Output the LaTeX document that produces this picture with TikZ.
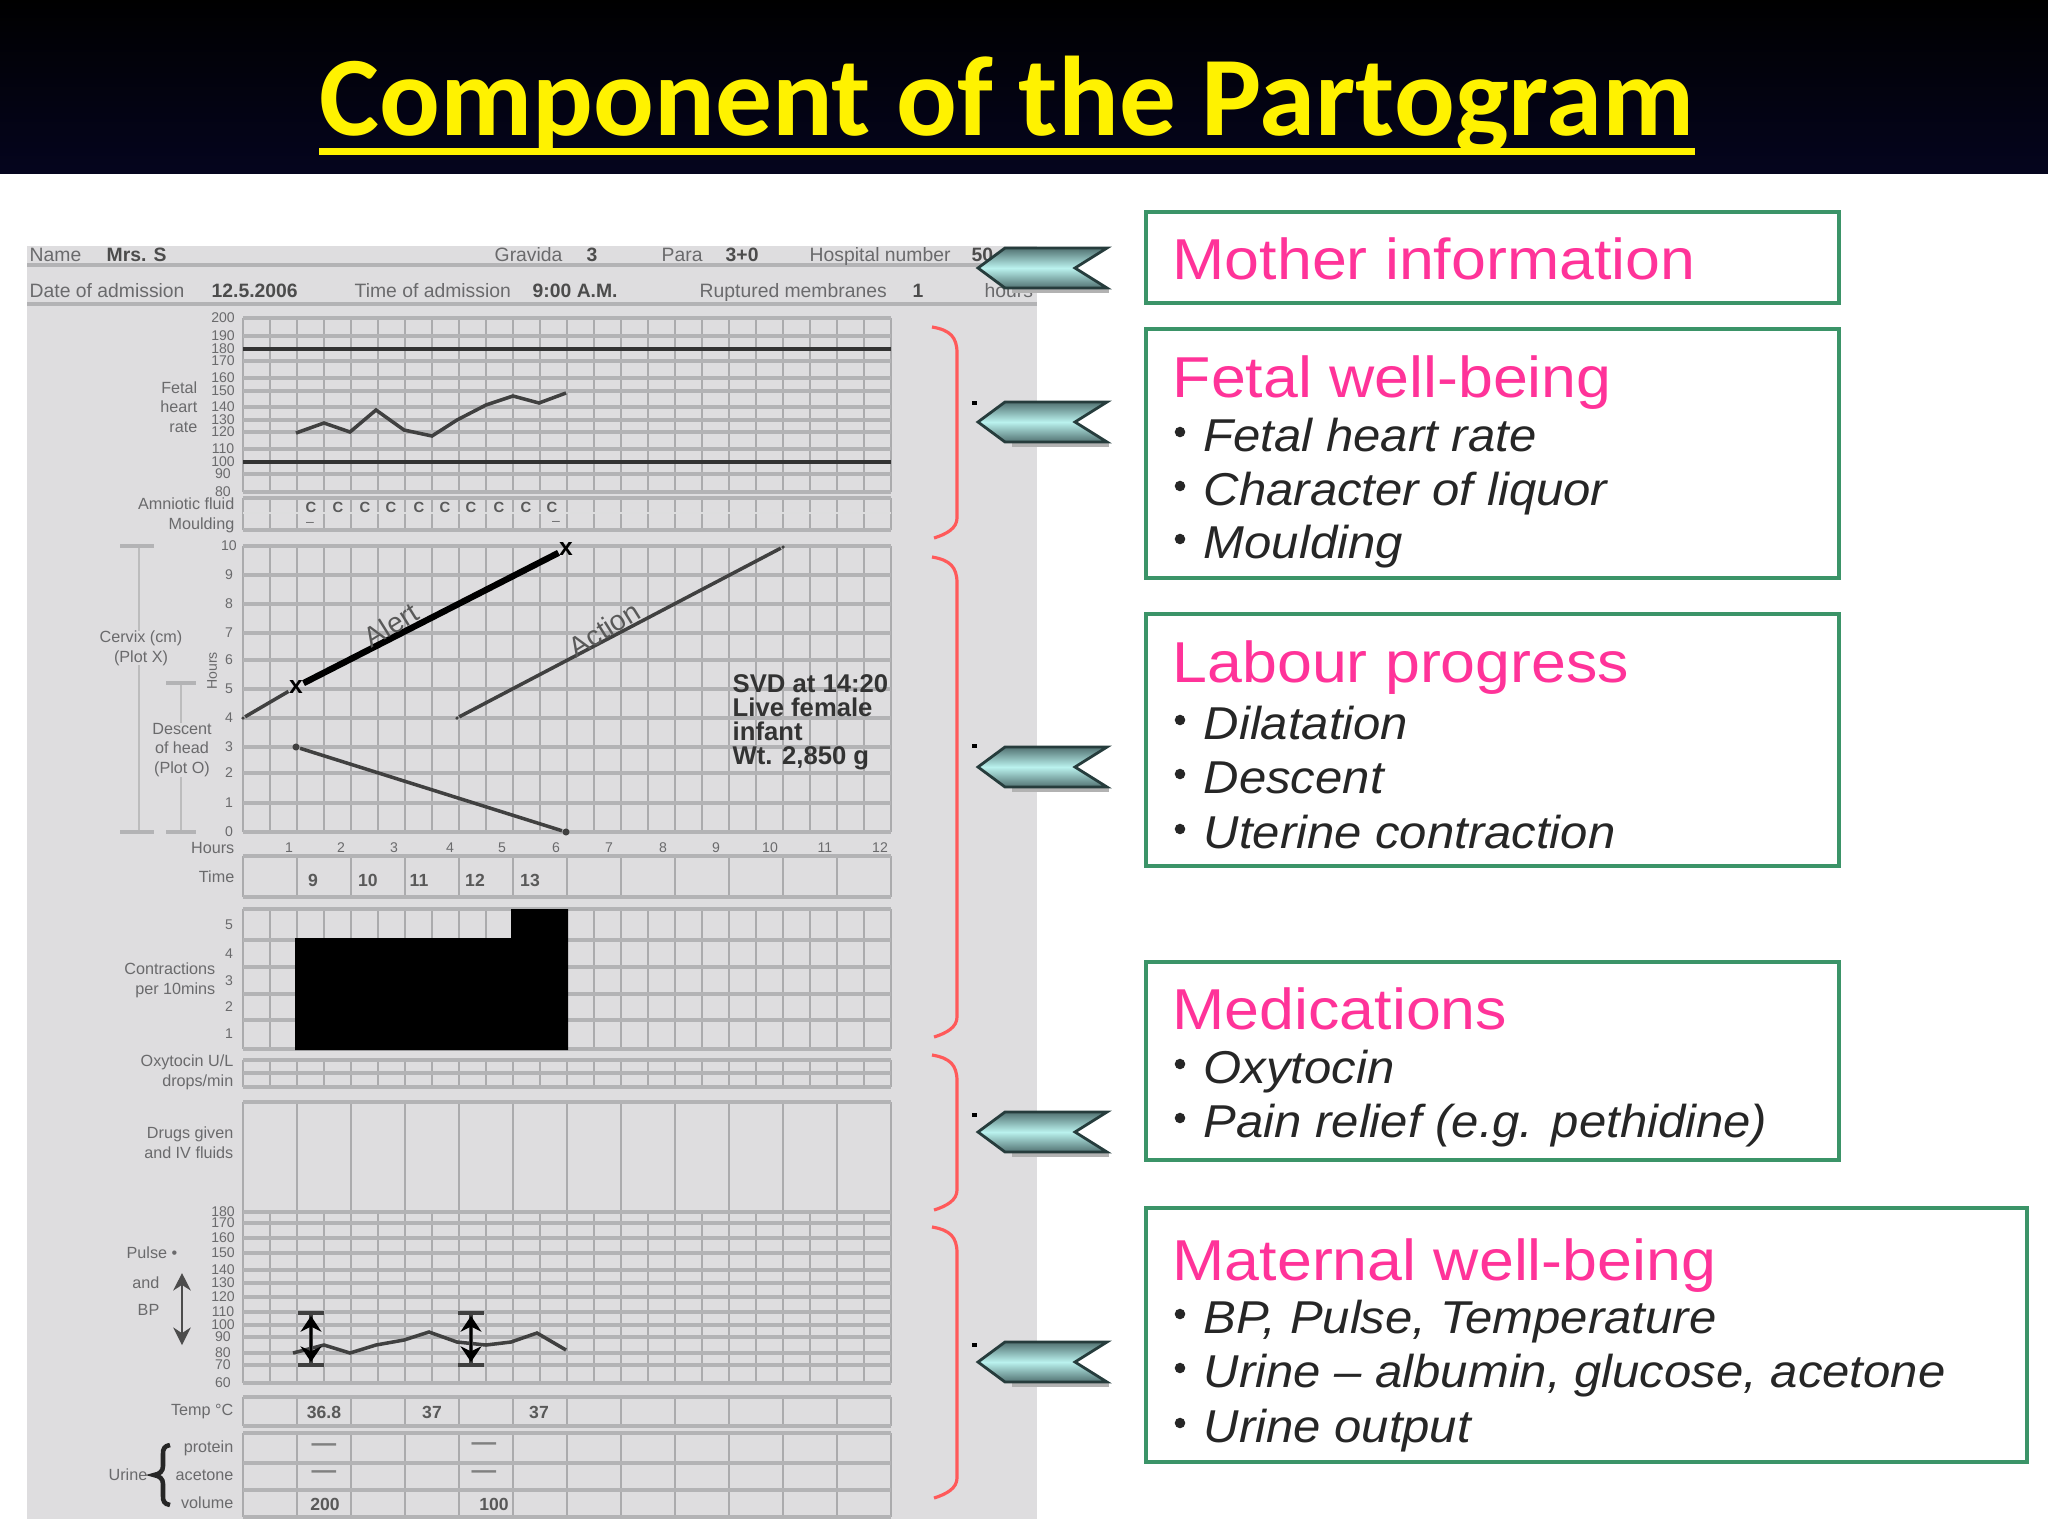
\documentclass[tikz,border=0pt]{standalone}
\usepackage{fontspec}
\setmainfont{Liberation Sans}
\newfontfamily\titlefont{Carlito}
\newfontfamily\headfont[FakeStretch=1.087]{Liberation Sans}
\newfontfamily\itemfont[FakeStretch=1.065]{Liberation Sans}
\usetikzlibrary{arrows.meta}
\definecolor{formgray}{HTML}{DEDDDF}
\definecolor{gridgray}{HTML}{ABABAD}
\definecolor{inkgray}{HTML}{6A6A6C}
\definecolor{boxgreen}{HTML}{3B9468}
\definecolor{headpink}{HTML}{FF3399}
\definecolor{bandblue}{HTML}{05051E}
\definecolor{chevdark}{HTML}{527272}
\definecolor{chevlight}{HTML}{BAF2EE}
\definecolor{chevline}{HTML}{263C3C}
\definecolor{bracered}{HTML}{FF5A5A}
\begin{document}
\begin{tikzpicture}[
    x=0.01cm, y=-0.01cm,
    gridline/.style={draw=gridgray, line width=0.65pt},
    barline/.style={draw=gridgray!90, line width=0.95pt},
    limitline/.style={draw=black!80, line width=1.2pt},
    plotline/.style={draw=black!75, line width=1pt},
    bracket/.style={draw=bracered, line width=0.9pt},
    scaleline/.style={draw=gridgray!80, line width=0.6pt},
    formtext/.style={font=\fontsize{5.5}{6}\selectfont, text=inkgray, inner sep=0pt, anchor=base west},
    formvalue/.style={formtext, text=black!70, font=\fontsize{5.5}{6}\bfseries\selectfont},
    sidetext/.style={font=\fontsize{4.6}{5.6}\selectfont, text=inkgray, inner sep=0pt, align=right, anchor=east},
    centertext/.style={sidetext, align=center, anchor=center},
    tick/.style={font=\fontsize{4}{5}\selectfont, text=inkgray, inner sep=0pt},
    entry/.style={font=\fontsize{5}{6}\bfseries\selectfont, text=black!65, inner sep=0pt},
    liquormark/.style={entry, font=\fontsize{4.2}{5}\bfseries\selectfont},
    urinedash/.style={entry, font=\fontsize{7}{7}\bfseries\selectfont, text=black!50},
    birth/.style={font=\fontsize{7.3}{6.85}\bfseries\selectfont, text=black!80, inner sep=0pt, anchor=west, align=left},
    marker/.style={circle, fill=black!75, inner sep=0pt, minimum size=2pt},
    cross/.style={font=\fontsize{7}{7}\bfseries\selectfont, inner sep=0pt},
    chevron/.style={draw=chevline, line width=0.8pt, top color=chevdark, bottom color=chevdark, middle color=chevlight},
    infobox/.style={draw=boxgreen, line width=1.15pt, fill=white, anchor=north west, inner sep=0pt},
    heading/.style={font=\headfont\fontsize{16.4}{18}\selectfont, text=headpink, inner sep=0pt, anchor=base west},
    item/.style={font=\itemfont\fontsize{13.1}{15}\itshape\selectfont, text=black!85, inner sep=0pt, anchor=base west},
    bulletmark/.style={circle, fill=black!85, inner sep=0pt, minimum size=3pt}
]
    \useasboundingbox (0,0) rectangle (2048,1536);

    % Title band
    \shade[top color=black, bottom color=bandblue] (0,0) rectangle (2048,173);
    \node[font=\titlefont\bfseries\fontsize{32.2}{36}\selectfont, text=yellow, inner sep=0pt, anchor=base] (title) at (1007,135) {Component of the Partogram};
    \draw[yellow, line width=2.1pt] ([yshift=-4.7pt]title.base west) -- ([yshift=-4.7pt]title.base east);

    % Form sheet
    \fill[formgray] (27,246) rectangle (1037,1519);
    \draw[barline] (27,265) -- (1000,265);
    \draw[barline] (27,304) -- (1037,304);

    % Form header
    \node[formtext] (name) at (29,261) {Name};
    \node[formvalue] (mrs) at (106,261) {Mrs. S};
    \node[formtext] (gravida) at (494,261) {Gravida};
    \node[formvalue] (gravidano) at (586,261) {3};
    \node[formtext] (para) at (661,261) {Para};
    \node[formvalue] (parano) at (725,261) {3+0};
    \node[formtext] (hospital) at (809,261) {Hospital number};
    \node[formvalue] (hospitalno) at (971,261) {50};
    \node[formtext] (admitdate) at (29,297) {Date of admission};
    \node[formvalue] (admitdateval) at (211,297) {12.5.2006};
    \node[formtext] (admittime) at (354,297) {Time of admission};
    \node[formvalue] (admittimeval) at (532,297) {9:00 A.M.};
    \node[formtext] (ruptured) at (699,297) {Ruptured membranes};
    \node[formvalue] (rupturedval) at (912,297) {1};
    \node[formtext] (hours) at (984,297) {hours};

    % Fetal heart rate grid
    \foreach \x in {243,270,...,891}
        \draw[gridline] (\x,318) -- (\x,492);
    \foreach \y/\v in {318/200,336/190,349/180,361/170,378/160,391/150,407/140,420/130,432/120,449/110,462/100,474/90,492/80} {
        \draw[barline] (243,\y) -- (891,\y);
        \node[tick] (fhr\v) at (223,\y) {\v};
    }
    \draw[limitline] (243,349) -- (891,349);
    \draw[limitline] (243,462) -- (891,462);
    \draw[plotline] (296,433) -- (324,423) -- (350,432) -- (376,410) -- (404,430) -- (432,436) -- (457,420) -- (486,405) -- (513,396) -- (539,403) -- (566,393);
    \node[sidetext] (fhrlabel) at (198,407) {Fetal\\heart\\rate};

    % Amniotic fluid and moulding
    \foreach \x in {243,270,...,891}
        \draw[gridline] (\x,498) -- (\x,530);
    \draw[barline] (243,498) -- (891,498);
    \draw[gridline, draw=gridgray!40] (243,513) -- (891,513);
    \draw[barline] (243,530) -- (891,530);
    \foreach \x in {311,338,365,391,419,445,471,499,526,552}
        \node[liquormark] (liquor\x) at (\x,507) {C};
    \node[tick] (mould1) at (310,524) {--};
    \node[tick] (mould2) at (556,523) {--};
    \node[sidetext] (liquorlabel) at (235,515) {Amniotic fluid\\Moulding};

    % Cervix and descent grid
    \foreach \x in {243,270,...,891}
        \draw[gridline] (\x,546) -- (\x,832);
    \foreach \y/\v in {546/10,575/9,604/8,633/7,660/6,689/5,718/4,747/3,773/2,803/1,832/0} {
        \draw[barline] (243,\y) -- (891,\y);
        \node[tick] (cervix\v) at (229,\y) {\v};
    }
    \node[marker, minimum size=1pt] (alertbase) at (243,718) {};
    \node[cross] (alertstart) at (296,687) {x};
    \node[cross] (alertend) at (566,549) {x};
    \node[marker, minimum size=1pt] (actionbase) at (457,718) {};
    \node[marker, minimum size=1pt] (actionend) at (783,547) {};
    \node[marker] (descentstart) at (296,747) {};
    \node[marker] (descentend) at (566,832) {};
    \draw[plotline] (alertbase) -- (alertstart);
    \draw[draw=black, line width=1.8pt] (alertstart) -- (alertend);
    \draw[plotline] (actionbase) -- (actionend);
    \draw[plotline] (descentstart) -- (descentend);
    \node[font=\fontsize{8}{9}\selectfont, text=black!65, inner sep=0pt, rotate=32] (alert) at (391,625) {Alert};
    \node[font=\fontsize{8}{9}\selectfont, text=black!65, inner sep=0pt, rotate=32] (action) at (604,629) {Action};
    \node[birth] (delivery) at (732,722) {SVD at 14:20\\Live female\\infant\\Wt. 2,850 g};

    % Cervix and descent scales
    \coordinate (cervixtop) at (139,546);
    \coordinate (cervixbottom) at (139,832);
    \coordinate (descenttop) at (181,683);
    \coordinate (descentmid) at (181,725);
    \coordinate (descentlow) at (181,776);
    \coordinate (descentbottom) at (181,832);
    \draw[scaleline] (cervixtop) -- (cervixbottom);
    \draw[scaleline] (descenttop) -- (descentmid);
    \draw[scaleline] (descentlow) -- (descentbottom);
    \draw[barline] (120,546) -- (154,546);
    \draw[barline] (120,832) -- (154,832);
    \draw[barline] (166,683) -- (196,683);
    \draw[barline] (166,832) -- (196,832);
    \node[centertext, fill=formgray] (cervixlabel) at (141,648) {Cervix (cm)\\(Plot X)};
    \node[centertext, fill=formgray] (descentlabel) at (182,750) {Descent\\of head\\(Plot O)};
    \node[tick, rotate=90] (hourslabel) at (212,671) {Hours};

    % Hours and time rows
    \foreach \x/\v in {289/1,341/2,394/3,450/4,502/5,556/6,609/7,663/8,716/9,770/10,825/11,880/12}
        \node[tick] (hour\v) at (\x,848) {\v};
    \foreach \x in {243,297,...,891}
        \draw[gridline] (\x,856) -- (\x,897);
    \draw[barline] (243,856) -- (891,856);
    \draw[barline] (243,897) -- (891,897);
    \foreach \x/\v in {313/9,368/10,419/11,475/12,530/13}
        \node[entry] (time\v) at (\x,880) {\v};
    \node[sidetext] (hourrow) at (235,848) {Hours};
    \node[sidetext] (timerow) at (235,877) {Time};

    % Contractions grid
    \foreach \x in {243,270,...,891}
        \draw[gridline] (\x,909) -- (\x,1049);
    \foreach \y/\v in {909/6,940/5,967/4,994/3,1020/2,1049/0}
        \draw[barline] (243,\y) -- (891,\y);
    \foreach \y/\v in {925/5,954/4,981/3,1007/2,1034/1}
        \node[tick] (contract\v) at (229,\y) {\v};
    \fill[black] (295,938) -- (511,938) -- (511,909) -- (568,909) -- (568,1050) -- (295,1050) -- cycle;
    \node[sidetext] (contractlabel) at (216,980) {Contractions\\per 10mins};

    % Oxytocin rows
    \foreach \x in {243,270,...,891}
        \draw[gridline] (\x,1060) -- (\x,1087);
    \foreach \y in {1060,1073,1087}
        \draw[barline] (243,\y) -- (891,\y);
    \node[sidetext] (oxylabel) at (234,1072) {Oxytocin U/L\\drops/min};

    % Drugs rows
    \foreach \x in {243,297,...,891}
        \draw[gridline] (\x,1102) -- (\x,1212);
    \draw[barline] (243,1102) -- (891,1102);
    \node[sidetext] (drugslabel) at (234,1143) {Drugs given\\and IV fluids};

    % Pulse and BP grid
    \foreach \x in {243,270,...,891}
        \draw[gridline] (\x,1212) -- (\x,1383);
    \foreach \y/\v in {1212/180,1223/170,1238/160,1253/150,1270/140,1283/130,1297/120,1312/110,1325/100,1337/90,1353/80,1365/70,1383/60} {
        \draw[barline] (243,\y) -- (891,\y);
        \node[tick] (pulse\v) at (223,\y) {\v};
    }
    \draw[plotline] (293,1353) -- (324,1345) -- (350,1353) -- (376,1345) -- (404,1340) -- (429,1332) -- (457,1342) -- (486,1345) -- (511,1342) -- (537,1333) -- (566,1350);
    \foreach \x/\n in {311/a,471/b} {
        \coordinate (bptop\n) at (\x,1311);
        \coordinate (bpbottom\n) at (\x,1367);
        \coordinate (bpmid\n) at (\x,1339);
        \draw[{Bar[width=7.5pt]}-{Bar[width=7.5pt]}, draw=black!75, line width=1.1pt] (bptop\n) -- (bpbottom\n);
        \draw[-{Stealth[length=4.5pt,width=6pt]}, black] (bpmid\n) -- ([yshift=-1.4pt]bptop\n);
        \draw[-{Stealth[length=4.5pt,width=6pt]}, black] (bpmid\n) -- ([yshift=1.4pt]bpbottom\n);
    }
    \node[sidetext] (pulselabel) at (178,1253) {Pulse •};
    \node[sidetext] (andlabel) at (160,1283) {and};
    \node[sidetext] (bplabel) at (160,1310) {BP};
    \coordinate (legendtop) at (182,1273);
    \coordinate (legendbottom) at (182,1345);
    \draw[{Stealth[length=5pt,width=5pt]}-{Stealth[length=5pt,width=5pt]}, draw=black!70, line width=0.4pt] (legendtop) -- (legendbottom);

    % Temperature row
    \foreach \x in {243,297,...,891}
        \draw[gridline] (\x,1397) -- (\x,1426);
    \draw[barline] (243,1397) -- (891,1397);
    \draw[barline] (243,1426) -- (891,1426);
    \node[sidetext] (templabel) at (234,1412) {Temp °C};
    \node[entry] (temp1) at (324,1412) {36.8};
    \node[entry] (temp2) at (432,1412) {37};
    \node[entry] (temp3) at (539,1412) {37};

    % Urine rows
    \foreach \x in {243,297,...,891}
        \draw[gridline] (\x,1433) -- (\x,1517);
    \foreach \y in {1433,1463,1490,1517}
        \draw[barline] (243,\y) -- (891,\y);
    \node[sidetext] (proteinlabel) at (234,1448) {protein};
    \node[sidetext] (acetonelabel) at (234,1475) {acetone};
    \node[sidetext] (volumelabel) at (234,1503) {volume};
    \node[sidetext] (urinelabel) at (148,1475) {Urine};
    \draw[draw=black!85, line width=1.3pt] (170,1445) .. controls (164,1446) and (163,1449) .. (163,1454) -- (163,1466) .. controls (163,1471) and (160,1474) .. (154,1475) .. controls (160,1476) and (163,1479) .. (163,1484) -- (163,1496) .. controls (163,1501) and (164,1504) .. (170,1505);
    \node[urinedash] (protein1) at (324,1448) {---};
    \node[urinedash] (protein2) at (484,1447) {---};
    \node[urinedash] (acetone1) at (324,1475) {---};
    \node[urinedash] (acetone2) at (484,1475) {---};
    \node[entry] (volume1) at (325,1504) {200};
    \node[entry] (volume2) at (494,1504) {100};

    % Red brackets
    \foreach \t/\b in {327/538,557/1037,1055/1210,1227/1498}
        \draw[bracket] (932,\t) .. controls (950,{\t+3}) and (957,{\t+10}) .. (957,{\t+26}) -- (957,{\b-20}) .. controls (957,{\b-10}) and (947,{\b-4}) .. (934,\b);

    % Chevrons
    \foreach \y in {268,422,767,1132,1362} {
        \draw[draw=black!30, line width=1pt] (1012,{\y+23}) -- (1109,{\y+23});
        \draw[chevron] (978,\y) -- (1005,{\y-20}) -- (1107,{\y-20}) -- (1075,\y) -- (1107,{\y+20}) -- (1005,{\y+20}) -- cycle;
    }
    \foreach \y in {403,746,1115,1345}
        \fill[black] (972,{\y-2}) rectangle (977,{\y+2});

    % Information boxes
    \node[infobox, minimum width=6.93cm, minimum height=0.91cm] (motherbox) at (1144,210) {};
    \node[infobox, minimum width=6.93cm, minimum height=2.49cm] (fetalbox) at (1144,327) {};
    \node[infobox, minimum width=6.93cm, minimum height=2.52cm] (labourbox) at (1144,612) {};
    \node[infobox, minimum width=6.93cm, minimum height=1.98cm] (medsbox) at (1144,960) {};
    \node[infobox, minimum width=8.80cm, minimum height=2.54cm] (maternalbox) at (1144,1206) {};

    % Box headings
    \node[heading] (mother) at (1172,279) {Mother information};
    \node[heading] (fetal) at (1172,397) {Fetal well-being};
    \node[heading] (labour) at (1172,682) {Labour progress};
    \node[heading] (meds) at (1172,1029) {Medications};
    \node[heading] (maternal) at (1172,1280) {Maternal well-being};

    % Box items
    \foreach \y/\n/\txt in {451/fetalrate/Fetal heart rate, 505/liquor/Character of liquor, 558/moulding/Moulding, 739/dilatation/Dilatation, 793/descent/Descent, 848/uterine/Uterine contraction, 1083/oxytocin/Oxytocin, 1137/pain/{Pain relief (e.g. pethidine)}, 1333/bp/{BP, Pulse, Temperature}, 1387/urine/{Urine – albumin, glucose, acetone}, 1442/output/Urine output} {
        \node[item] (\n) at (1203,\y) {\txt};
        \node[bulletmark] (\n dot) at (1180,{\y-19}) {};
    }
\end{tikzpicture}
\end{document}
